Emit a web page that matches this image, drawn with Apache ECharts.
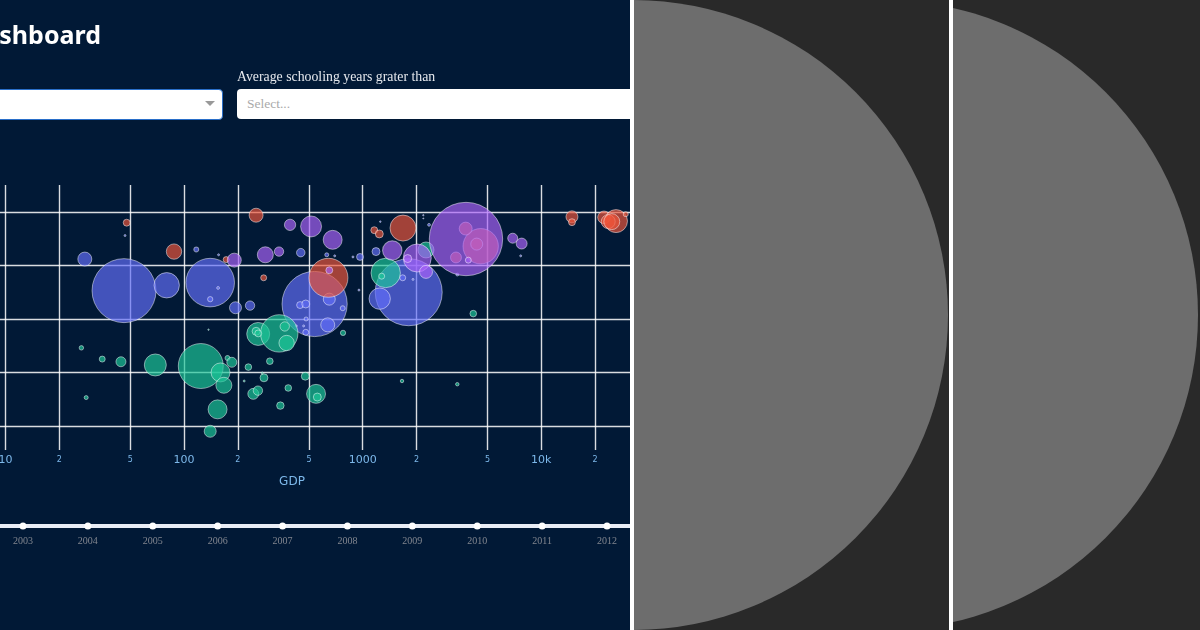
<!DOCTYPE html>
<html>
<head>
<meta charset="utf-8">
<title>Dashboard</title>
<script src="https://cdn.jsdelivr.net/npm/echarts@6/dist/echarts.min.js"></script>
<style>
html,body{margin:0;padding:0;width:1200px;height:630px;overflow:hidden;background:#fff}
#left{position:absolute;left:0;top:0;width:630px;height:630px;background:#011936;overflow:hidden}
#chart{position:absolute;left:0;top:0;width:630px;height:630px}
#title{position:absolute;left:-42px;top:17px;width:143px;text-align:right;font:bold 25px "Noto Sans",sans-serif;color:#fff;line-height:34px;white-space:nowrap}
#lbl{position:absolute;left:237px;top:69px;font:13.8px "Liberation Serif",serif;color:#e6e9ee;white-space:nowrap}
.sel{position:absolute;background:#fff;box-sizing:border-box;border-radius:4px}
#sel1{left:-20px;top:89px;width:243px;height:31px;border:1px solid #2a6fc9}
#caret{position:absolute;left:205px;top:101px;width:0;height:0;border-left:5px solid transparent;border-right:5px solid transparent;border-top:5px solid #999}
#sel2{left:237px;top:89px;width:420px;height:30px;font:13.5px/30px "Liberation Serif",serif;color:#aaa;padding-left:10px}
.panel{position:absolute;top:0;height:630px;background:#292929;overflow:hidden}
.disc{position:absolute;top:0;width:630px;height:630px;border-radius:50%;background:#6d6d6d}
</style>
</head>
<body>
<div id="left">
	<div id="chart"></div>
	<div id="title">shboard</div>
	<div id="lbl">Average schooling years grater than</div>
	<div class="sel" id="sel1"></div>
	<div id="caret"></div>
	<div class="sel" id="sel2">Select...</div>
</div>
<div class="panel" style="left:634px;width:315px"><div class="disc" style="left:-316px"></div></div>
<div class="panel" style="left:953px;width:247px"><div class="disc" style="left:-385px"></div></div>
<script>
// gdp per capita, life expectancy, population (millions)
var asiaBlue = [
	[27.8,71.2,49],[46.1,65.3,1024],[79.9,66.3,161],[140,66.8,590],[140,63.7,7],[155,65.8,2],[194,62.1,36],[234,62.5,22],
	[450,72.4,18],[117,73,6],[538,62.8,1063],[446,62.6,12],[480,62.8,16],[482,60,4],[480,57.5,9],[425,58.7,1],[467,58.7,1],
	[650,63.7,36],[637,58.9,49],[773,62,6],[1810,65,1122],[1245,63.8,114],[1187,72.6,16],[966,71.6,12],[629,72,4],[697,71.8,1],
	[882,71.6,1],[953,65.4,1],[1913,67.4,1],[1675,67.7,9],[3386,68.3,2],[2352,77.6,2],[7667,71.8,1],[2185,79.4,0.5],[2185,78.8,0.3],
	[1255,78.2,0.6],[46.7,75.6,1],[156,72,1]
];
var africaGreen = [
	[26.6,54.6,5],[34.8,52.5,9],[44.3,52,25],[69,51.4,121],[124,51.2,506],[160,50,90],[167,47.6,64],[154,43.1,90],[140,39,36],
	[175,52.7,6],[185,51.9,25],[229,51,11],[302,52.1,11],[280,49,16],[274,49.9,1],[477,49.3,16],[383,47.1,11],[346,43.8,14],
	[244,46,30],[259,46.6,22],[217,48.4,1],[28.3,45.3,4],[260,57.2,132],[341,57.3,350],[366,58.6,22],[375,55.5,59],[253,57.7,16],
	[260,57.3,12],[137,58,0.5],[548,46,90],[557,45.4,16],[776,57.4,7],[4160,61,11],[1660,48.4,3],[3386,47.8,3],[1345,68.6,216],
	[1277,68,9],[2262,72.9,64]
];
var europeRed = [
	[253,79.4,49],[47.7,78,12],[87.8,72.6,59],[172,71.1,9],[279,67.7,9],[1681,77,169],[1161,76.6,12],[1239,75.9,16],[643,67.7,380],
	[14850,79.1,36],[14850,78.1,12],[22440,79,40],[26200,78.3,132],[23700,78.2,49],[29700,79.6,6],[24800,78.2,64],
	[4578,73.6,313],[4349,74,36],[3773,76.9,42],[3329,71.5,30]
];
var americasPurple = [
	[3787,74.95,1347],[3902,71,9],[6918,75.1,25],[7762,74.1,30],
	[2021,71.4,196],[2262,68.8,42],[1464,72.8,94],[1786,71.3,16],[679,74.8,90],[514,77.3,110],[392,77.6,32],[340,72.6,22],
	[285,72,64],[191,71,49],[650,69.1,12]
];
var gdpTicks = [10,20,50,100,200,500,1000,2000,5000,10000,20000];
var lifeTicks = [40,50,60,70,80];
var years = [2003,2004,2005,2006,2007,2008,2009,2010,2011,2012];

function bubbleSeries(name, rows, color){
	return {
		name: name,
		type: 'scatter',
		data: rows,
		symbolSize: function(v){ return 2 * Math.sqrt(v[2]); },
		itemStyle: { color: color, opacity: 0.68, borderColor: 'rgba(255,255,255,0.7)', borderWidth: 1 }
	};
}

var chart = echarts.init(document.getElementById('chart'), null, {renderer: 'canvas'});
chart.setOption({
	animation: false,
	grid: [
		{ left: 0, right: 0, top: 185, height: 265, outerBoundsMode: 'none' },
		{ left: 0, right: 0, top: 525, height: 1, outerBoundsMode: 'none' }
	],
	xAxis: [
		{
			type: 'log', gridIndex: 0, logBase: 10, min: 9.316, max: 31380,
			name: 'GDP', nameLocation: 'middle', nameGap: 26,
			nameTextStyle: { color: '#7db8ea', fontSize: 12, fontFamily: 'DejaVu Sans', padding: [0, 46, 0, 0] },
			axisLine: { show: false },
			axisTick: { show: false, customValues: gdpTicks },
			minorTick: { show: false },
			splitLine: { show: true, lineStyle: { color: 'rgba(255,255,255,0.85)', width: 1.4 } },
			axisLabel: {
				show: true, customValues: gdpTicks, margin: 3, hideOverlap: false,
				formatter: function(v){
					var n = Math.round(v);
					if (n == 10 || n == 100 || n == 1000) return '{big|' + n + '}';
					if (n == 10000) return '{big|10k}';
					return '{small|' + String(n).charAt(0) + '}';
				},
				rich: {
					big: { color: '#7db8ea', fontSize: 11, fontFamily: 'DejaVu Sans', padding: [2, 0, 0, 0] },
					small: { color: '#7db8ea', fontSize: 8, fontFamily: 'DejaVu Sans', padding: [3, 0, 0, 0] }
				}
			}
		},
		{
			type: 'value', gridIndex: 1, min: 2002.646, max: 2012.354,
			axisLine: { show: true, onZero: false, lineStyle: { color: '#e9edf6', width: 4 } },
			axisTick: { show: false, customValues: years },
			splitLine: { show: false },
			axisLabel: {
				customValues: years, margin: 10, color: '#82868f', fontSize: 10, fontFamily: 'Liberation Serif',
				formatter: function(v){ return String(Math.round(v)); }
			}
		}
	],
	yAxis: [
		{
			type: 'value', gridIndex: 0, min: 35.5, max: 85.05,
			axisLine: { show: false }, axisLabel: { show: false },
			axisTick: { show: false, customValues: lifeTicks },
			splitLine: { show: true, lineStyle: { color: 'rgba(255,255,255,0.85)', width: 1.4 } }
		},
		{ type: 'value', gridIndex: 1, min: 0, max: 1, show: false }
	],
	series: [
		bubbleSeries('Asia', asiaBlue, '#636efa'),
		bubbleSeries('Africa', africaGreen, '#1ec99a'),
		bubbleSeries('Europe', europeRed, '#ef553b'),
		bubbleSeries('Americas', americasPurple, '#ab63fa'),
		{
			type: 'scatter', xAxisIndex: 1, yAxisIndex: 1, symbolSize: 7,
			data: years.map(function(y){ return [y, 0]; }),
			itemStyle: { color: '#ffffff', opacity: 1 }
		}
	]
});
</script>
</body>
</html>
